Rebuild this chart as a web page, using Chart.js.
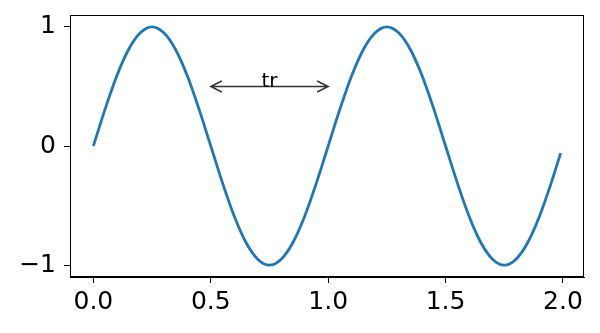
<!DOCTYPE html>
<html>
<head>
<meta charset="utf-8">
<script src="https://cdn.jsdelivr.net/npm/chart.js@4.4.0/dist/chart.umd.min.js"></script>
<style>
  html, body { margin: 0; padding: 0; background: #fff; }
  #wrap { width: 600px; height: 333px; }
</style>
</head>
<body>
<div id="wrap"><canvas id="wave-chart"></canvas></div>
<script>
// Values (t, signal)
const tValues = [0.00, 0.05, 0.10, 0.15, 0.20, 0.25, 0.30, 0.35, 0.40, 0.45,
                 0.50, 0.55, 0.60, 0.65, 0.70, 0.75, 0.80, 0.85, 0.90, 0.95,
                 1.00, 1.05, 1.10, 1.15, 1.20, 1.25, 1.30, 1.35, 1.40, 1.45,
                 1.50, 1.55, 1.60, 1.65, 1.70, 1.75, 1.80, 1.85, 1.90, 1.95, 1.99];
const sValues = [0.00, 0.31, 0.59, 0.81, 0.95, 1.00, 0.95, 0.81, 0.59, 0.31,
                 0.00, -0.31, -0.59, -0.81, -0.95, -1.00, -0.95, -0.81, -0.59, -0.31,
                 0.00, 0.31, 0.59, 0.81, 0.95, 1.00, 0.95, 0.81, 0.59, 0.31,
                 0.00, -0.31, -0.59, -0.81, -0.95, -1.00, -0.95, -0.81, -0.59, -0.31, -0.06];
const xTicks = [0.0, 0.5, 1.0, 1.5, 2.0];
const yTicks = [-1, 0, 1];

// the double arrow annotation
const arrowFrom = [0.5, 0.5];
const arrowTo = [1.0, 0.5];
const arrowText = 'tr';
const arrowTextAt = [0.75, 0.5];

const tickFont = { family: 'DejaVu Sans', size: 25 };

// draws the top/right spines and the annotation
const extras = {
  id: 'extras',
  afterDatasetsDraw(chart) {
    const ctx = chart.ctx;
    const a = chart.chartArea;
    const xs = chart.scales.x, ys = chart.scales.y;
    ctx.save();
    ctx.strokeStyle = '#000';
    ctx.lineWidth = 1;
    ctx.strokeRect(a.left + 0.5, a.top + 0.5, a.right - a.left - 1, a.bottom - a.top - 1);

    const x1 = xs.getPixelForValue(arrowFrom[0]);
    const x2 = xs.getPixelForValue(arrowTo[0]);
    const y = ys.getPixelForValue(arrowFrom[1]);
    ctx.strokeStyle = '#333';
    ctx.lineWidth = 1.5;
    ctx.beginPath();
    ctx.moveTo(x1, y); ctx.lineTo(x2, y);
    ctx.moveTo(x1 + 11, y - 5.5); ctx.lineTo(x1, y); ctx.lineTo(x1 + 11, y + 5.5);
    ctx.moveTo(x2 - 11, y - 5.5); ctx.lineTo(x2, y); ctx.lineTo(x2 - 11, y + 5.5);
    ctx.stroke();

    ctx.fillStyle = '#000';
    ctx.font = '20px "DejaVu Sans"';
    ctx.textAlign = 'center';
    ctx.textBaseline = 'alphabetic';
    ctx.fillText(arrowText, xs.getPixelForValue(arrowTextAt[0]), ys.getPixelForValue(arrowTextAt[1]) + 1);
    ctx.restore();
  }
};

let waveChart = null;

function initChart() {
  const ctx = document.getElementById('wave-chart').getContext('2d');
  waveChart = new Chart(ctx, {
    type: 'line',
    data: {
      datasets: [{
        data: tValues.map((t, i) => ({ x: t, y: sValues[i] })),
        borderColor: '#1f77b4',
        borderWidth: 2.8,
        pointRadius: 0,
        cubicInterpolationMode: 'monotone',
        fill: false
      }]
    },
    options: {
      responsive: true,
      maintainAspectRatio: false,
      animation: false,
      layout: { padding: { top: 15, right: 16, left: 0, bottom: 0 } },
      plugins: { legend: { display: false }, tooltip: { enabled: false } },
      scales: {
        x: {
          type: 'linear',
          min: -0.0995,
          max: 2.0895,
          afterFit: s => { s.height = 56; s.paddingLeft = 0; s.paddingRight = 0; },
          afterBuildTicks: s => { s.ticks = xTicks.map(v => ({ value: v })); },
          grid: { drawOnChartArea: false, drawTicks: true, tickLength: 6, color: '#000' },
          border: { display: true, color: '#000', width: 1 },
          ticks: {
            color: '#000',
            font: tickFont,
            padding: 4,
            maxRotation: 0,
            callback: v => v.toFixed(1)
          }
        },
        y: {
          type: 'linear',
          min: -1.1,
          max: 1.1,
          afterFit: s => { s.width = 70; s.paddingTop = 0; s.paddingBottom = 0; },
          afterBuildTicks: s => { s.ticks = yTicks.map(v => ({ value: v })); },
          grid: { drawOnChartArea: false, drawTicks: true, tickLength: 6, color: '#000' },
          border: { display: true, color: '#000', width: 1 },
          ticks: {
            color: '#000',
            font: tickFont,
            padding: 8,
            callback: v => (v < 0 ? '\u2212' + Math.abs(v) : String(v))
          }
        }
      }
    },
    plugins: [extras]
  });
}

window.onload = initChart;
</script>
</body>
</html>
